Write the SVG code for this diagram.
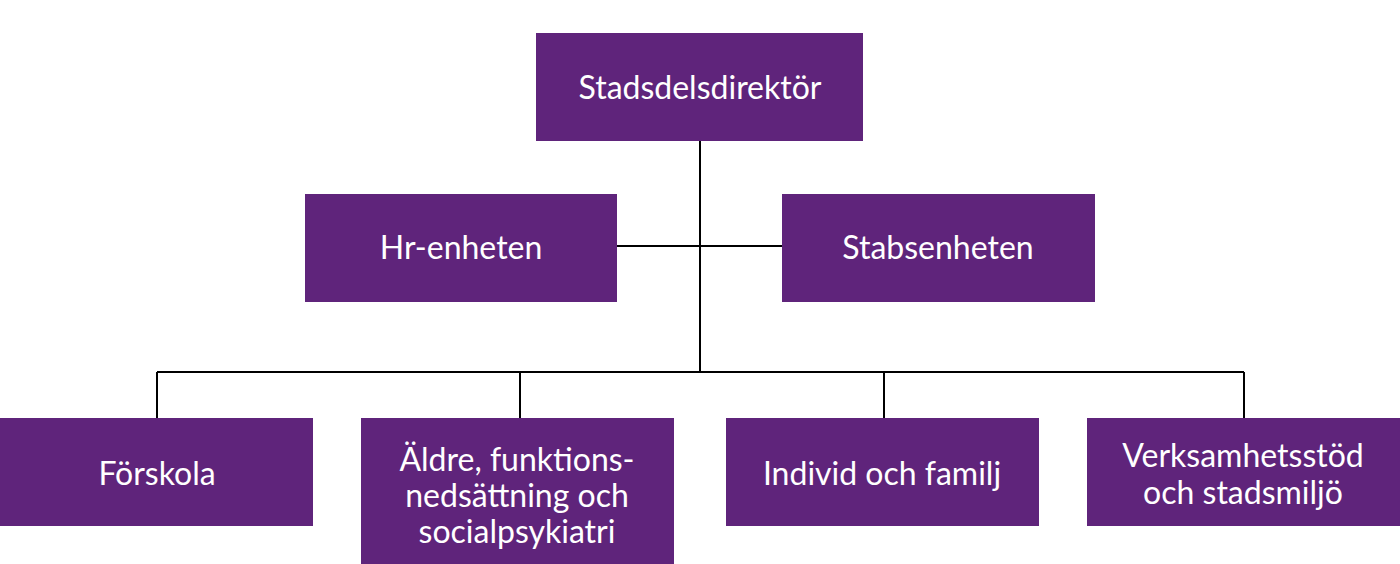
<svg xmlns="http://www.w3.org/2000/svg" width="1400" height="564" viewBox="0 0 1400 564">
<style>
.b{fill:#5f247b}
text{fill:#fff;font-family:Lato,"Noto Sans",sans-serif;font-size:32px;text-anchor:middle;dominant-baseline:central}
.c{stroke:#000;stroke-width:2;fill:none}
</style>
<rect width="1400" height="564" fill="#fff"/>
<g id="connectors" class="c">
<path d="M700 141V372M617 246H782M157 372H1244M157 372V418M520 372V418M884 372V418M1244 372V418"/>
</g>
<g id="n1"><rect class="b" x="536" y="33" width="327" height="108"/><text x="700" y="86">Stadsdelsdirektör</text></g>
<g id="n2"><rect class="b" x="305" y="194" width="312" height="108"/><text x="461" y="246">Hr-enheten</text></g>
<g id="n3"><rect class="b" x="782" y="194" width="313" height="108"/><text x="938" y="246">Stabsenheten</text></g>
<g id="n4"><rect class="b" x="0" y="418" width="313" height="108"/><text x="157" y="472">Förskola</text></g>
<g id="n5"><rect class="b" x="361" y="418" width="313" height="146"/><text x="517" y="458">Äldre, funktions-</text><text x="517" y="494">nedsättning och</text><text x="517" y="530">socialpsykiatri</text></g>
<g id="n6"><rect class="b" x="726" y="418" width="313" height="108"/><text x="882" y="472">Individ och familj</text></g>
<g id="n7"><rect class="b" x="1087" y="418" width="313" height="108"/><text x="1243" y="454">Verksamhetsstöd</text><text x="1243" y="491">och stadsmiljö</text></g>
</svg>
